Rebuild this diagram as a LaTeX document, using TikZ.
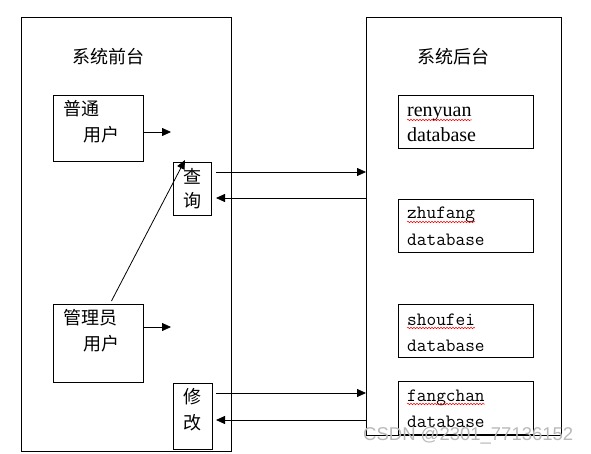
\documentclass[tikz,border=0pt]{standalone}
\usepackage{fontspec}
\setmainfont{Liberation Serif}
\setsansfont{Liberation Sans}
\newfontfamily\cjk{Noto Sans CJK SC}
\usetikzlibrary{positioning,arrows.meta,decorations.pathmorphing}

\begin{document}
\begin{tikzpicture}[x=1pt, y=-1pt, >={Triangle[length=9pt,width=8pt]},
		frame/.style={draw, line width=0.9pt, inner sep=0pt, anchor=north west},
		zh/.style={font=\cjk\fontsize{18}{18}\selectfont, inner sep=0pt, anchor=west},
		db/.style={font=\ttfamily\fontsize{18.8}{18.8}\selectfont, inner sep=0pt, anchor=base west},
		wavy/.style={red, line width=0.5pt, decorate, decoration={snake, amplitude=0.7pt, segment length=3pt}},
		link/.style={->, line width=0.8pt}]
			\useasboundingbox (0,0) rectangle (591,454);

			% front end
			\node[frame, minimum width=210pt, minimum height=434pt] (front) at (21,17) {};
			\node[zh] (front-title) at (72,57) {系统前台};
			\node[frame, minimum width=90pt, minimum height=66pt] (user) at (53,95) {};
			\node[zh] (user-a) at (63,109) {普通};
			\node[zh] (user-b) at (83,135) {用户};
			\node[frame, minimum width=38pt, minimum height=53pt] (query) at (173,162) {};
			\node[zh] (query-a) at (183,176) {查};
			\node[zh] (query-b) at (183,201) {询};
			\node[frame, minimum width=90pt, minimum height=78pt] (admin) at (53,304) {};
			\node[zh] (admin-a) at (63,318) {管理员};
			\node[zh] (admin-b) at (83,344) {用户};
			\node[frame, minimum width=39pt, minimum height=66pt] (modify) at (173,383) {};
			\node[zh] (modify-a) at (183,397) {修};
			\node[zh] (modify-b) at (183,423) {改};

			% back end
			\node[frame, minimum width=195pt, minimum height=418pt] (back) at (366,17) {};
			\node[zh] (back-title) at (417,57) {系统后台};
			\node[frame, minimum width=135pt, minimum height=53pt] (renyuan-box) at (398,95) {};
			\node[frame, minimum width=135pt, minimum height=53pt] (zhufang-box) at (398,199) {};
			\node[frame, minimum width=135pt, minimum height=53pt] (shoufei-box) at (398,304) {};
			\node[frame, minimum width=135pt, minimum height=53pt] (fangchan-box) at (398,381) {};

			\node[db, font=\rmfamily\fontsize{20}{20}\selectfont] (renyuan) at (407,117) {renyuan};
			\node[db, font=\rmfamily\fontsize{20}{20}\selectfont] (renyuan-db) at (407,142) {database};
			\node[db] (zhufang) at (407,219) {zhufang};
			\node[db] (zhufang-db) at (407,246) {database};
			\node[db] (shoufei) at (407,325) {shoufei};
			\node[db] (shoufei-db) at (407,351) {database};
			\node[db] (fangchan) at (407,401) {fangchan};
			\node[db] (fangchan-db) at (407,427) {database};

			\foreach \w in {renyuan, zhufang, shoufei, fangchan}
				\draw[wavy] ([yshift=-3pt]\w.base west) -- ([yshift=-3pt]\w.base east);

			% arrows
			\coordinate (user-tip) at (171,132);
			\coordinate (admin-tip) at (171,327);
			\draw[link] (user.east |- user-tip) -- (user-tip);
			\draw[link] (admin.east |- admin-tip) -- (admin-tip);
			\draw[link] ([xshift=13pt,yshift=3pt]admin.north) -- ([xshift=12pt,yshift=2pt]query.north west);

			\coordinate (q-out) at (216,172);
			\coordinate (q-in) at (216,198);
			\coordinate (m-out) at (216,393);
			\coordinate (m-in) at (216,420);
			\draw[link] (q-out) -- (q-out -| back.west);
			\draw[link] (q-in -| back.west) -- (q-in);
			\draw[link] (m-out) -- (m-out -| back.west);
			\draw[link] (m-in -| back.west) -- (m-in);

			\node[font=\sffamily\fontsize{18.5}{18.5}\selectfont, text=gray!55, inner sep=0pt, anchor=west] (mark) at (363,436) {CSDN @2301\_77136152};
\end{tikzpicture}
\end{document}
